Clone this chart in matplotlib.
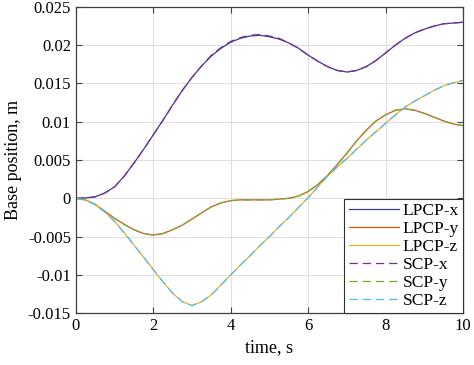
import numpy as np
import matplotlib.pyplot as plt

plt.rcParams['font.family'] = ['Liberation Serif', 'DejaVu Serif']
plt.rcParams['lines.scale_dashes'] = False

## the data
t = np.arange(0, 10.01, 0.25)

lpcp_x = [0, 0.00005, 0.0002, 0.0007, 0.0015, 0.0029, 0.0046, 0.0064, 0.0083, 0.0102,
          0.0122, 0.0141, 0.0158, 0.0173, 0.0186, 0.0196, 0.0204, 0.0209, 0.0212, 0.0213,
          0.0211, 0.0208, 0.0203, 0.0196, 0.0187, 0.0179, 0.0172, 0.0167, 0.0165, 0.0167,
          0.0172, 0.0180, 0.0190, 0.0200, 0.0209, 0.0216, 0.0221, 0.0225, 0.0228, 0.0229,
          0.0230]
lpcp_y = [0, -0.0002, -0.0008, -0.0017, -0.0026, -0.0034, -0.0041, -0.0046, -0.0048, -0.0046,
          -0.0041, -0.0035, -0.0027, -0.0019, -0.0011, -0.0006, -0.0003, -0.0002, -0.0002, -0.0002,
          -0.0002, -0.0001, 0.0, 0.0003, 0.0009, 0.0018, 0.0030, 0.0044, 0.0059, 0.0075,
          0.0089, 0.0101, 0.0109, 0.0115, 0.0117, 0.0115, 0.0111, 0.0106, 0.0101, 0.0097,
          0.0095]
lpcp_z = [0, -0.0002, -0.0008, -0.0018, -0.0030, -0.0045, -0.0061, -0.0077, -0.0093, -0.0109,
          -0.0124, -0.0135, -0.0140, -0.0135, -0.0126, -0.0113, -0.0100, -0.0087, -0.0075, -0.0062,
          -0.0050, -0.0037, -0.0025, -0.0012, 0.0001, 0.0015, 0.0029, 0.0041, 0.0052, 0.0064,
          0.0076, 0.0087, 0.0098, 0.0109, 0.0119, 0.0127, 0.0134, 0.0141, 0.0147, 0.0151,
          0.0154]

scp_x = [0, 0.00005, 0.0002, 0.0007, 0.0015, 0.0029, 0.0046, 0.0064, 0.0083, 0.0102,
         0.0122, 0.0141, 0.0158, 0.0173, 0.0187, 0.0197, 0.0205, 0.0210, 0.0213, 0.0214,
         0.0212, 0.0209, 0.0203, 0.0196, 0.0187, 0.0179, 0.0172, 0.0167, 0.0165, 0.0167,
         0.0172, 0.0180, 0.0190, 0.0200, 0.0209, 0.0216, 0.0221, 0.0225, 0.0228, 0.0229,
         0.0230]
scp_y = [0, -0.0002, -0.0008, -0.0017, -0.0026, -0.0034, -0.0041, -0.0046, -0.0048, -0.0046,
         -0.0041, -0.0035, -0.0027, -0.0019, -0.0011, -0.0006, -0.0003, -0.0002, -0.0002, -0.0002,
         -0.0002, -0.0001, 0.0, 0.0003, 0.0009, 0.0018, 0.0030, 0.0044, 0.0059, 0.0075,
         0.0089, 0.0101, 0.0109, 0.0115, 0.0117, 0.0115, 0.0111, 0.0106, 0.0101, 0.0097,
         0.0095]
scp_z = [0, -0.0002, -0.0008, -0.0018, -0.0030, -0.0045, -0.0061, -0.0077, -0.0093, -0.0109,
         -0.0124, -0.0135, -0.0140, -0.0135, -0.0126, -0.0113, -0.0100, -0.0087, -0.0075, -0.0062,
         -0.0050, -0.0037, -0.0025, -0.0012, 0.0001, 0.0015, 0.0029, 0.0041, 0.0052, 0.0064,
         0.0076, 0.0087, 0.0098, 0.0109, 0.0119, 0.0127, 0.0134, 0.0141, 0.0147, 0.0151,
         0.0154]

xticks = [0, 2, 4, 6, 8, 10]
yticks = [-0.015, -0.01, -0.005, 0, 0.005, 0.01, 0.015, 0.02, 0.025]
ytick_labels = ['-0.015', '-0.01', '-0.005', '0', '0.005', '0.01', '0.015', '0.02', '0.025']

fig = plt.figure(figsize=(4.74, 3.65), dpi=100)
ax = fig.add_axes([0.160, 0.142, 0.817, 0.839])

ax.plot(t, lpcp_x, color='#3a3a96', lw=0.9, label='LPCP-x')
ax.plot(t, lpcp_y, color='#D95319', lw=0.9, label='LPCP-y')
ax.plot(t, lpcp_z, color='#EDB120', lw=0.9, label='LPCP-z')
ax.plot(t, scp_x, color='#7E2F8E', lw=0.9, dashes=(6, 3.5), label='SCP-x')
ax.plot(t, scp_y, color='#77AC30', lw=0.9, dashes=(6, 3.5), label='SCP-y')
ax.plot(t, scp_z, color='#4DBEEE', lw=0.9, dashes=(6, 3.5), label='SCP-z')

# axes and labels
ax.set_xlim(0, 10)
ax.set_ylim(-0.015, 0.025)
ax.set_xticks(xticks)
ax.set_yticks(yticks)
ax.set_yticklabels(ytick_labels)
ax.grid(True, color='#dedede', lw=0.7)
ax.set_axisbelow(True)
ax.tick_params(direction='in', top=True, right=True, labelsize=12, length=4,
               color='#404040', width=0.8)
for s in ax.spines.values():
    s.set_color('#404040')
    s.set_linewidth(0.9)
ax.set_xlabel('time, s', fontsize=13)
ax.set_ylabel('Base position, m', fontsize=13)

leg = ax.legend(loc='lower right', fontsize=12.5, borderaxespad=0, fancybox=False,
                framealpha=1, edgecolor='#303030', handlelength=2.9, labelspacing=0.1,
                handletextpad=0.2, borderpad=0.25)
leg.get_frame().set_linewidth(0.8)

fig.savefig('out.png', dpi=100)
